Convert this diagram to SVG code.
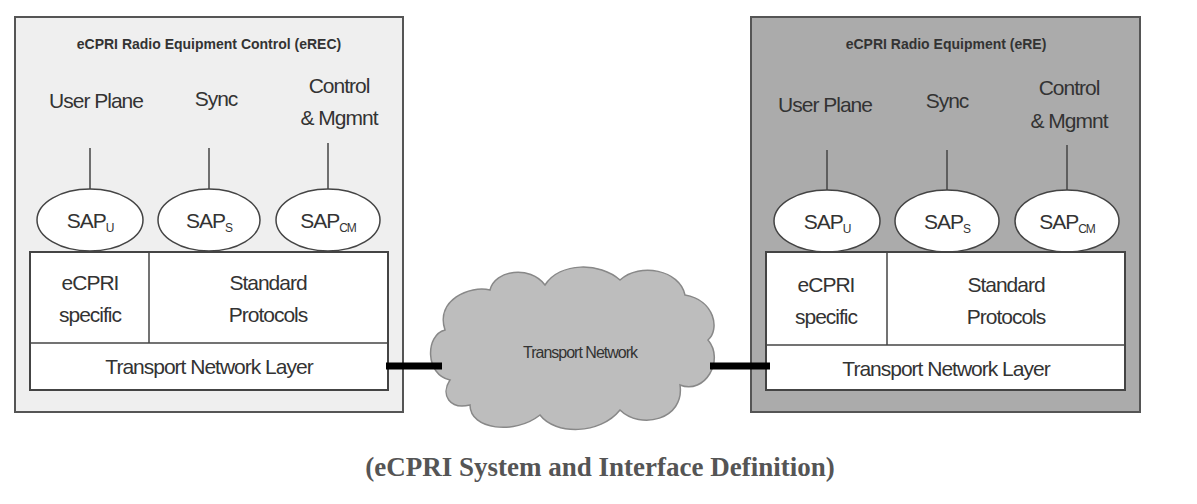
<svg xmlns="http://www.w3.org/2000/svg" width="1197" height="504" viewBox="0 0 1197 504">
<style>
text{font-family:"Liberation Sans",Arial,sans-serif;fill:#333;text-anchor:middle}
.t{font-size:14px;font-weight:bold}
.l{font-size:21px;letter-spacing:-1px}
.e{fill:#fff;stroke:#444;stroke-width:1.5}
.b{fill:#fff;stroke:#444;stroke-width:2}
.ln{stroke:#444;stroke-width:1.5}
</style>
<rect width="1197" height="504" fill="#fff"/>
<g id="eREC">
<rect x="15" y="17" width="388" height="395" fill="#efefef" stroke="#555" stroke-width="2"/>
<text class="t" x="209" y="49">eCPRI Radio Equipment Control (eREC)</text>
<text class="l" x="96" y="108">User Plane</text>
<text class="l" x="216" y="106">Sync</text>
<text class="l" x="339" y="93">Control</text>
<text class="l" x="339" y="125">&amp; Mgmnt</text>
<line class="ln" x1="90" y1="148" x2="90" y2="190"/>
<line class="ln" x1="209" y1="148" x2="209" y2="190"/>
<line class="ln" x1="328" y1="143" x2="328" y2="190"/>
<ellipse class="e" cx="90" cy="220" rx="53" ry="31"/>
<ellipse class="e" cx="209" cy="220" rx="51" ry="31"/>
<ellipse class="e" cx="328" cy="220" rx="52" ry="31"/>
<text class="l" x="90" y="228">SAP<tspan font-size="12" dy="4">U</tspan></text>
<text class="l" x="209" y="228">SAP<tspan font-size="12" dy="4">S</tspan></text>
<text class="l" x="328" y="228">SAP<tspan font-size="12" dy="4">CM</tspan></text>
<rect class="b" x="30" y="252" width="358" height="138"/>
<line class="ln" x1="30" y1="343" x2="388" y2="343" stroke-width="2"/>
<line class="ln" x1="149" y1="252" x2="149" y2="343" stroke-width="2"/>
<text class="l" x="90" y="290">eCPRI</text>
<text class="l" x="90" y="322">specific</text>
<text class="l" x="268" y="290">Standard</text>
<text class="l" x="268" y="322">Protocols</text>
<text class="l" x="209" y="374">Transport Network Layer</text>
</g>
<g id="eRE">
<rect x="751" y="17" width="389" height="395" fill="#ababab" stroke="#555" stroke-width="2"/>
<text class="t" x="946" y="49">eCPRI Radio Equipment (eRE)</text>
<text class="l" x="825" y="112">User Plane</text>
<text class="l" x="947" y="108">Sync</text>
<text class="l" x="1069" y="95">Control</text>
<text class="l" x="1069" y="128">&amp; Mgmnt</text>
<line class="ln" x1="827" y1="150" x2="827" y2="192"/>
<line class="ln" x1="947" y1="150" x2="947" y2="192"/>
<line class="ln" x1="1067" y1="145" x2="1067" y2="192"/>
<ellipse class="e" cx="827" cy="221" rx="53" ry="31"/>
<ellipse class="e" cx="947" cy="221" rx="52" ry="31"/>
<ellipse class="e" cx="1067" cy="221" rx="52" ry="31"/>
<text class="l" x="827" y="229">SAP<tspan font-size="12" dy="4">U</tspan></text>
<text class="l" x="947" y="229">SAP<tspan font-size="12" dy="4">S</tspan></text>
<text class="l" x="1067" y="229">SAP<tspan font-size="12" dy="4">CM</tspan></text>
<rect class="b" x="766" y="252" width="359" height="138"/>
<line class="ln" x1="766" y1="345" x2="1125" y2="345" stroke-width="2"/>
<line class="ln" x1="887" y1="252" x2="887" y2="345" stroke-width="2"/>
<text class="l" x="826" y="292">eCPRI</text>
<text class="l" x="826" y="324">specific</text>
<text class="l" x="1006" y="292">Standard</text>
<text class="l" x="1006" y="324">Protocols</text>
<text class="l" x="946" y="376">Transport Network Layer</text>
</g>
<g id="cloud">
<path d="M450,380 C425,375 425,335 445,330 C435,300 470,285 490,290 C495,270 530,265 545,285 C560,262 600,262 620,280 C640,262 680,270 685,295 C715,300 720,330 708,340 C725,360 705,395 680,385 C685,420 640,430 620,410 C600,435 555,435 540,415 C515,435 470,430 470,405 C450,410 440,395 450,380 Z" fill="#bdbdbd" stroke="#888" stroke-width="1.5"/>
<text x="580" y="358" font-size="16" letter-spacing="-1">Transport Network</text>
</g>
<g id="connectors">
<line x1="386" y1="366" x2="442" y2="366" stroke="#000" stroke-width="7"/>
<line x1="710" y1="366" x2="770" y2="366" stroke="#000" stroke-width="7"/>
</g>
<text x="600" y="476" style="font-family:'Liberation Serif',serif;font-size:27px;font-weight:bold;fill:#555">(eCPRI System and Interface Definition)</text>
</svg>
